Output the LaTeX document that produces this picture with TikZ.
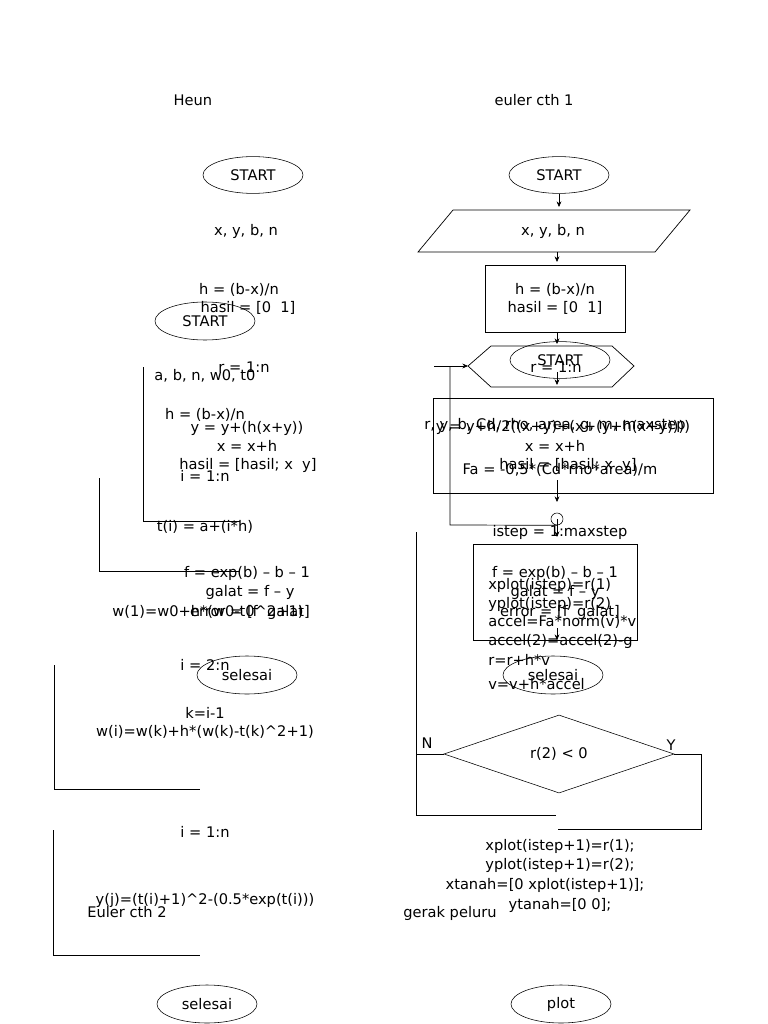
\documentclass[tikz,border=0pt]{standalone}
\usepackage{fontspec}
\setmainfont{DejaVu Sans}
\usetikzlibrary{shapes.geometric,arrows.meta}
\begin{document}
\begin{tikzpicture}[x=0.025cm,y=-0.025cm,
  every node/.style={font=\fontsize{10.4}{12}\selectfont,inner sep=0pt},
  oval/.style={draw,ellipse,minimum width=2.5cm,minimum height=0.92cm},
  ln/.style={line width=0.5pt},
  ar/.style={ln,-{Stealth[length=4pt,width=3.5pt]}}]
\useasboundingbox (0,0) rectangle (768,1024);
% titles
\node (heun) at (193,100) {Heun};
\node (e1) at (534,100) {euler cth 1};
% left column
\node[oval] (ls1) at (253,175) {START};
\node (lin) at (246,231) {x, y, b, n};
\node (lh1) at (239,290) {h = (b-x)/n};
\node (lh2) at (248,308) {hasil = [0\ \ 1]};
\node[oval,minimum height=0.95cm] (ls2) at (205,321) {START};
\node (lr) at (244,367) {r = 1:n};
\node (lab) at (205,376) {a, b, n, w0, t0};
\node (lh3) at (205,415) {h = (b-x)/n};
\node (ly) at (247,428) {y = y+(h(x+y))};
\node (lx) at (247,446) {x = x+h};
\node (lhs) at (248,465) {hasil = [hasil; x\ \ y]};
\node (li1) at (205,476) {i = 1:n};
\node (lt) at (205,527) {t(i) = a+(i*h)};
\node (lf) at (247,573) {f = exp(b) -- b -- 1};
\node (lg) at (250,592) {galat = f -- y};
\node (le) at (250,612) {error = [f\ \ galat]};
\node (lw1) at (208,612) {w(1)=w0+h*(w0-t0\^{}2+1)};
\node (li2) at (205,665) {i = 2:n};
\node[oval,minimum height=0.95cm] (lsel1) at (247,675) {selesai};
\node (lk) at (205,713) {k=i-1};
\node (lw) at (205,732) {w(i)=w(k)+h*(w(k)-t(k)\^{}2+1)};
\node (li3) at (205,832) {i = 1:n};
\node (lyj) at (205,900) {y(j)=(t(i)+1)\^{}2-(0.5*exp(t(i)))};
\node (e2) at (127,912) {Euler cth 2};
\node[oval,minimum height=0.95cm] (lsel2) at (207,1004) {selesai};
\coordinate (a1) at (143,367); \coordinate (a2) at (143,521); \coordinate (a3) at (240,521);
\draw[ln] (a1) -- (a2) -- (a3);
\coordinate (b1) at (99,478); \coordinate (b2) at (99,571); \coordinate (b3) at (240,571);
\draw[ln] (b1) -- (b2) -- (b3);
\coordinate (c1) at (54,665); \coordinate (c2) at (54,789); \coordinate (c3) at (200,789);
\draw[ln] (c1) -- (c2) -- (c3);
\coordinate (d1) at (53,830); \coordinate (d2) at (53,955); \coordinate (d3) at (200,955);
\draw[ln] (d1) -- (d2) -- (d3);
% right column
\node[oval] (rs1) at (559,175) {START};
\draw[ln] (418,252) -- (453,210) -- (690,210) -- (655,252) -- cycle;
\node (rin) at (553,231) {x, y, b, n};
\draw[ln] (485,265) rectangle (625,332);
\node (rh1) at (555,290) {h = (b-x)/n};
\node (rh2) at (555,308) {hasil = [0\ \ 1]};
\draw[ln] (468,366) -- (491,346) -- (612,346) -- (634,366) -- (612,387) -- (491,387) -- cycle;
\node[oval] (rs2) at (560,360) {START};
\node (rr) at (556,367) {r = 1:n};
\draw[ln] (433,398) rectangle (713,493);
\node (rpar) at (555,425) {r, y, b, Cd, rho, area, g, m, maxstep};
\node (ry) at (563,427) {y = y+h/2((x+y)+(x+(y+h(x+y))))};
\node (rx) at (555,446) {x = x+h};
\node (rhs) at (568,465) {hasil = [hasil; x\ \ y]};
\node (rfa) at (560,470) {Fa = -0,5*(Cd*rho*area)/m};
\node[draw,circle,minimum size=0.3cm] (rc) at (557,519) {};
\node (rist) at (560,532) {istep = 1:maxstep};
\draw[ln] (473,544) rectangle (637,640);
\node (rf) at (555,573) {f = exp(b) -- b -- 1};
\node (rg) at (555,592) {galat = f -- y};
\node (re) at (560,612) {error = [f\ \ galat]};
\node[anchor=west] (rx1) at (488,585) {xplot(istep)=r(1)};
\node[anchor=west] (ry1) at (488,604) {yplot(istep)=r(2)};
\node[anchor=west] (ra1) at (488,622) {accel=Fa*norm(v)*v};
\node[anchor=west] (ra2) at (488,641) {accel(2)=accel(2)-g};
\node[anchor=west] (rrv) at (488,660) {r=r+h*v};
\node[oval,minimum height=0.95cm] (rsel) at (553,675) {selesai};
\node[anchor=west] (rvv) at (488,684) {v=v+h*accel};
\node[draw,diamond,aspect=2.95,minimum width=5.75cm,minimum height=1.95cm] (dia) at (559,754) {r(2) < 0};
\node (N) at (427,743) {N};
\node (Y) at (671,745) {Y};
\node (rx2) at (560,846) {xplot(istep+1)=r(1);};
\node (ry2) at (560,865) {yplot(istep+1)=r(2);};
\node (rxt) at (545,885) {xtanah=[0 xplot(istep+1)];};
\node (ryt) at (560,905) {ytanah=[0 0];};
\node (gp) at (450,913) {gerak peluru};
\node[oval,minimum height=0.95cm] (plot) at (561,1004) {plot};
% connectors
\draw[ar] (rs1.south) -- (559,207);
\draw[ar] (557,252) -- (557,262);
\draw[ar] (557,332) -- (557,344);
\draw[ar] (557,372) -- (557,385);
\draw[ar] (557,480) -- (557,502);
\draw[ar] (rc.center) -- (557,537);
\draw[ar] (557,628) -- (557,640);
\draw[ln] (rc.south) -- (450,525) -- (450,366);
\draw[ar] (434,366) -- (468,366);
\draw[ln] (416,532) -- (416,815) -- (556,815);
\draw[ln] (dia.west) -- (416,754);
\draw[ln] (dia.east) -- (701,754) -- (701,829) -- (558,829);
\end{tikzpicture}
\end{document}
